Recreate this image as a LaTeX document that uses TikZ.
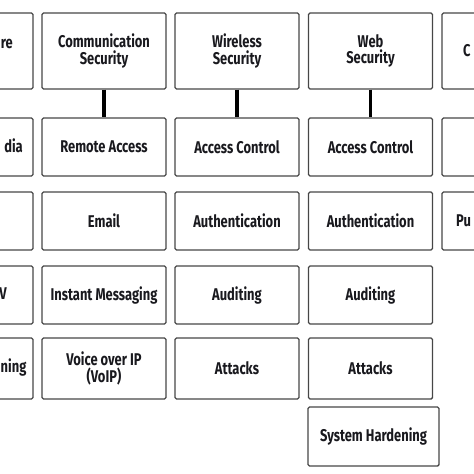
\documentclass[tikz,border=0pt]{standalone}
\usepackage{fontspec}
\setmainfont{Fira Sans}[FakeStretch=0.76]
\usepackage{tikz}
\usetikzlibrary{positioning}
\definecolor{boxgray}{RGB}{70, 70, 70}
\definecolor{textdark}{RGB}{25, 25, 30}

\begin{document}
\begin{tikzpicture}[
    x=1pt, y=-1pt,
    topic_node/.style={draw=boxgray, line width=1.4pt, rounded corners=1.5pt, minimum width=124pt, minimum height=58pt, inner sep=0pt, font=\bfseries\fontsize{17}{16.5}\selectfont, text=textdark, align=center},
    head_node/.style={topic_node, minimum height=76pt},
    cut_text/.style={inner sep=0pt, font=\bfseries\fontsize{17}{16.5}\selectfont, text=textdark},
    link/.style={line width=3.5pt, black}
]
    \useasboundingbox (0,0) rectangle (474,474);
    \clip (0,0) rectangle (474,474);

    % Header nodes
    \node[head_node] (infra) at (-29, 51) {};
    \node[head_node] (comsec) at (104, 51) {Communication\\Security};
    \node[head_node] (wlsec) at (237, 51) {Wireless\\Security};
    \node[head_node] (websec) at (370.5, 51) {Web\\Security};
    \node[head_node] (crypto) at (504, 51) {};

    % Column 1 (cut off)
    \node[topic_node] (media) at (-29, 147) {};
    \node[topic_node] (devA) at (-29, 221) {};
    \node[topic_node] (devB) at (-29, 295) {};
    \node[topic_node, minimum height=61pt] (harden1) at (-29, 368.5) {};

    % Communication security
    \node[topic_node] (remote) at (104, 147) {Remote Access};
    \node[topic_node] (email) at (104, 221) {Email};
    \node[topic_node] (im) at (104, 295) {Instant Messaging};
    \node[topic_node, minimum height=61pt] (voip) at (104, 368.5) {Voice over IP\\(VoIP)};

    % Wireless security
    \node[topic_node] (wlaccess) at (237, 147) {Access Control};
    \node[topic_node] (wlauth) at (237, 221) {Authentication};
    \node[topic_node] (wlaudit) at (237, 295) {Auditing};
    \node[topic_node, minimum height=61pt] (wlattack) at (237, 368.5) {Attacks};

    % Web security
    \node[topic_node] (webaccess) at (370.5, 147) {Access Control};
    \node[topic_node] (webauth) at (370.5, 221) {Authentication};
    \node[topic_node] (webaudit) at (370.5, 295) {Auditing};
    \node[topic_node, minimum height=61pt] (webattack) at (370.5, 368.5) {Attacks};
    \node[topic_node, minimum width=131pt, minimum height=59pt] (sysharden) at (373.5, 436.5) {System Hardening};

    % Column 5 (cut off)
    \node[topic_node] (cryptoA) at (504, 147) {};
    \node[topic_node] (pki) at (504, 221) {};

    % Visible parts of cut-off labels
    \node[cut_text, anchor=base east] (infratxt) at (13, 48) {re};
    \node[cut_text, anchor=base east] (mediatxt) at (23, 152) {dia};
    \node[cut_text, anchor=base east] (devBtxt) at (7, 299) {V};
    \node[cut_text, anchor=base west] (hardentxt) at (0.5, 372) {ning};
    \node[cut_text, anchor=base west] (cryptotxt) at (463, 56) {C};
    \node[cut_text, anchor=base west] (pkitxt) at (456, 226) {Pu};

    % Links
    \draw[link] (comsec) -- (remote);
    \draw[link] (wlsec) -- (wlaccess);
    \draw[link] (websec) -- (webaccess);
\end{tikzpicture}
\end{document}
